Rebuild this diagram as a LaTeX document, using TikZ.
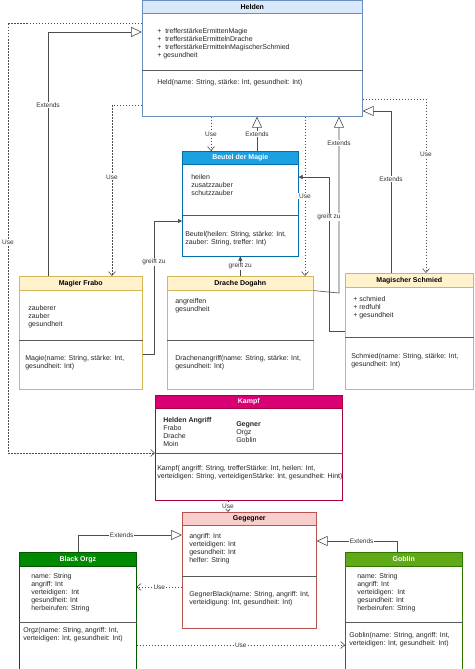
\documentclass[tikz,border=0pt]{standalone}
\usepackage{fontspec}
\setmainfont{Liberation Sans}
\usetikzlibrary{arrows.meta}

\definecolor{hdblue}{HTML}{DAE8FC}
\definecolor{hdblueD}{HTML}{6C8EBF}
\definecolor{bmblue}{HTML}{1BA1E2}
\definecolor{bmblueD}{HTML}{006EAF}
\definecolor{ylw}{HTML}{FFF2CC}
\definecolor{ylwD}{HTML}{D6B656}
\definecolor{mgt}{HTML}{D80073}
\definecolor{mgtD}{HTML}{A50040}
\definecolor{rosa}{HTML}{F8CECC}
\definecolor{rosaD}{HTML}{B85450}
\definecolor{grnA}{HTML}{008A00}
\definecolor{grnAD}{HTML}{005700}
\definecolor{grnB}{HTML}{60A917}
\definecolor{grnBD}{HTML}{2D7600}

\begin{document}
\begin{tikzpicture}[x=1pt, y=-1pt, line width=0.6pt,
    hd/.style={rectangle, inner sep=0, anchor=north west, font=\bfseries\fontsize{7}{8}\selectfont},
    sec/.style={rectangle, fill=white, inner sep=0, anchor=north west},
    txt/.style={inner sep=0, anchor=north west, align=left, text=black!85, font=\fontsize{7}{8}\selectfont},
    dv/.style={draw=black!65, line width=0.8pt},
    lbl/.style={fill=white, inner sep=0.8pt, text=black!80, font=\fontsize{6.5}{7}\selectfont},
    ext/.style={draw=black!70, -{Triangle[open, length=11pt, width=10pt, fill=white]}},
    use/.style={draw=black!70, dash pattern=on 1.5pt off 1.5pt, -{Straight Barb[length=4pt, width=7pt]}},
    acc/.style={draw=black!70, -{Triangle[length=4pt, width=4pt]}}
  ]
    \useasboundingbox (0,0) rectangle (474,669);
    \clip (0,0) rectangle (474,669);

    % Helden
    \node[hd, draw=hdblueD, fill=hdblue, minimum width=220, minimum height=13] (heldenT) at (142,0.4) {Helden};
    \node[sec, draw=hdblueD, minimum width=220, minimum height=57] (heldenA) at (142,13) {};
    \node[sec, draw=hdblueD, minimum width=220, minimum height=46] (heldenM) at (142,70) {};
    \node[txt] (heldenAt) at (157,28.5) {+~~trefferstärkeErmittenMagie\\+~~trefferstärkeErmittelnDrache\\+~~trefferstärkeErmittelnMagischerSchmied\\+ gesundheit};
    \node[txt] (heldenMt) at (157,79.5) {Held(name: String, stärke: Int, gesundheit: Int)};

    % Beutel der Magie
    \node[hd, draw=bmblueD, fill=bmblue, text=white, minimum width=116, minimum height=13] (beutelT) at (182,151) {Beutel der Magie};
    \node[sec, draw=bmblueD, minimum width=116, minimum height=51] (beutelA) at (182,164) {};
    \node[sec, draw=bmblueD, minimum width=116, minimum height=41] (beutelM) at (182,215) {};
    \node[txt] (beutelAt) at (191,174.5) {heilen\\zusatzzauber\\schutzzauber};
    \node[txt] (beutelMt) at (185,231.5) {Beutel(heilen: String, stärke: Int,\\zauber: String, treffer: Int)};

    % Magier Frabo
    \node[hd, draw=ylwD, fill=ylw, minimum width=123, minimum height=14] (fraboT) at (19,276) {Magier Frabo};
    \node[sec, draw=ylwD, minimum width=123, minimum height=50] (fraboA) at (19,290) {};
    \node[sec, draw=ylwD, minimum width=123, minimum height=49] (fraboM) at (19,340) {};
    \node[txt] (fraboAt) at (28,305.5) {zauberer\\zauber\\gesundheit};
    \node[txt] (fraboMt) at (25,355.5) {Magie(name: String, stärke: Int,\\gesundheit: Int)};

    % Drache Dogahn
    \node[hd, draw=ylwD, fill=ylw, minimum width=146, minimum height=14] (dracheT) at (167,276) {Drache Dogahn};
    \node[sec, draw=ylwD, minimum width=146, minimum height=50] (dracheA) at (167,290) {};
    \node[sec, draw=ylwD, minimum width=146, minimum height=49] (dracheM) at (167,340) {};
    \node[txt] (dracheAt) at (175,298.5) {angreiffen\\gesundheit};
    \node[txt] (dracheMt) at (175,355.5) {Drachenangriff(name: String, stärke: Int,\\gesundheit: Int)};

    % Magischer Schmied
    \node[hd, draw=ylwD, fill=ylw, minimum width=128, minimum height=14] (schmiedT) at (345,273) {Magischer Schmied};
    \node[sec, draw=ylwD, minimum width=128, minimum height=50] (schmiedA) at (345,287) {};
    \node[sec, draw=ylwD, minimum width=128, minimum height=52] (schmiedM) at (345,337) {};
    \node[txt] (schmiedAt) at (353,296.5) {+ schmied\\+ redfuhl\\+ gesundheit};
    \node[txt] (schmiedMt) at (351,353.5) {Schmied(name: String, stärke: Int,\\gesundheit: Int)};

    % Kampf
    \node[hd, draw=mgtD, fill=mgt, text=white, minimum width=187, minimum height=13] (kampfT) at (155,395) {Kampf};
    \node[sec, draw=mgtD, minimum width=187, minimum height=45] (kampfA) at (155,408) {};
    \node[sec, draw=mgtD, minimum width=187, minimum height=47] (kampfM) at (155,453) {};
    \node[txt] (kampfAt) at (163,417.5) {\textbf{Helden Angriff}\\Frabo\\Drache\\Moin};
    \node[txt] (kampfBt) at (236,421.5) {\textbf{Gegner}\\Orgz\\Goblin};
    \node[txt] (kampfMt) at (157,465.5) {Kampf( angriff: String, trefferStärke: Int, heilen: Int,\\verteidigen: String, verteidigenStärke: Int, gesundheit: Hint)};

    % Gegegner
    \node[hd, draw=rosaD, fill=rosa, minimum width=134, minimum height=13] (gegnerT) at (182,512) {Gegegner};
    \node[sec, draw=rosaD, minimum width=134, minimum height=51] (gegnerA) at (182,525) {};
    \node[sec, draw=rosaD, minimum width=134, minimum height=52] (gegnerM) at (182,576) {};
    \node[txt] (gegnerAt) at (189,533.5) {angriff: Int\\verteidigen: Int\\gesundheit: Int\\helfer: String};
    \node[txt] (gegnerMt) at (189,591.5) {GegnerBlack(name: String, angriff: Int,\\verteidigung: Int, gesundheit: Int)};

    % Black Orgz
    \node[hd, draw=grnAD, fill=grnA, text=white, minimum width=117, minimum height=14] (orgzT) at (19,552) {Black Orgz};
    \node[sec, draw=grnAD, minimum width=117, minimum height=56] (orgzA) at (19,566) {};
    \node[sec, draw=grnAD, minimum width=117, minimum height=60] (orgzM) at (19,622) {};
    \node[txt] (orgzAt) at (31,573.5) {name: String\\angriff: Int\\verteidigen:~~Int\\gesundheit: Int\\herbeirufen: String};
    \node[txt] (orgzMt) at (23,627.5) {Orgz(name: String, angriff: Int,\\verteidigen: Int, gesundheit: Int)};

    % Goblin
    \node[hd, draw=grnBD, fill=grnB, text=white, minimum width=117, minimum height=14] (goblinT) at (345,552) {Goblin};
    \node[sec, draw=grnBD, minimum width=117, minimum height=56] (goblinA) at (345,566) {};
    \node[sec, draw=grnBD, minimum width=117, minimum height=60] (goblinM) at (345,622) {};
    \node[txt] (goblinAt) at (357,573.5) {name: String\\angriff: Int\\verteidigen:~~Int\\gesundheit: Int\\herbeirufen: String};
    \node[txt] (goblinMt) at (349,632.5) {Goblin(name: String, angriff: Int,\\verteidigen: Int, gesundheit: Int)};

    \foreach \c in {helden,beutel,frabo,drache,schmied,kampf,gegner,orgz,goblin}
      \draw[dv] (\c M.north west) -- (\c M.north east);

    % Vererbung
    \draw[ext] (fraboT.north -| 48,0) |- (heldenA.west |- 0,32) node[lbl, pos=0.35] {Extends};
    \draw[ext] (beutelT.north -| 257,0) -- (heldenM.south -| 257,0) node[lbl, midway] {Extends};
    \draw[ext] (dracheT.south east) -- (339,293) -- (heldenM.south -| 339,0) node[lbl, pos=0.85] {Extends};
    \draw[ext] (schmiedT.north -| 391,0) |- (heldenM.east |- 0,111) node[lbl, pos=0.29] {Extends};
    \draw[ext] (orgzT.north -| 78,0) |- (gegnerA.west |- 0,535) node[lbl, pos=0.71] {Extends};
    \draw[ext] (goblinT.north -| 397,0) |- (gegnerA.east |- 0,541) node[lbl, pos=0.72] {Extends};

    % Use
    \draw[use] (heldenA.west |- 0,23) -- (8,23) -- (8,453) node[lbl, pos=0.51] {Use} -- (kampfM.north west);
    \draw[use] (heldenM.west |- 0,105) -| (fraboT.north -| 112,0) node[lbl, pos=0.71] {Use};
    \draw[use] (heldenM.south -| 211,0) -- (beutelT.north -| 211,0) node[lbl, midway] {Use};
    \draw[use] (heldenM.south -| 305,0) -- (dracheT.north -| 305,0) node[lbl, midway] {Use};
    \draw[use] (heldenM.east |- 0,99) -| (schmiedT.north -| 426,0) node[lbl, pos=0.66] {Use};
    \draw[use] (kampfM.south -| 228,0) -- (gegnerT.north -| 228,0) node[lbl, midway] {Use};
    \draw[use] (gegnerM.west |- 0,587) -- (orgzA.east |- 0,587) node[lbl, midway] {Use};
    \draw[use] (orgzM.east |- 0,645) -- (goblinM.west |- 0,645) node[lbl, midway] {Use};

    % greift zu
    \draw[acc] (schmiedA.west |- 0,331) -- (329,331) -- (329,177) node[lbl, pos=0.74] {greift zu} -- (beutelA.east |- 0,177);
    \draw[acc] (fraboM.east |- 0,354) -- (154,354) -- (154,221) node[lbl, pos=0.69] {greift zu} -- (beutelM.west |- 0,221);
    \draw[acc] (dracheT.north) -- (beutelM.south) node[lbl, midway] {greift zu};
  \end{tikzpicture}
\end{document}
